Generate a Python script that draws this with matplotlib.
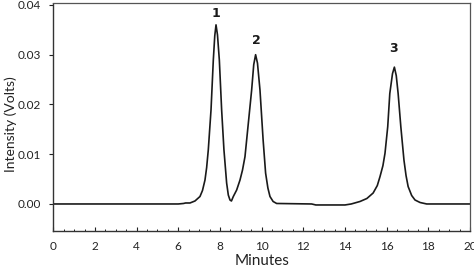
import matplotlib
matplotlib.use('Agg')
import matplotlib.pyplot as plt
from matplotlib.ticker import MultipleLocator, FormatStrFormatter

# ── Data ─────────────────────────────────────────────────────────
minutes = [0.0, 6.0, 6.25, 6.35, 6.56, 6.8, 7.04, 7.16, 7.28, 7.36, 7.44, 7.57,
           7.68, 7.75, 7.81, 7.88, 7.97, 8.08, 8.19, 8.32, 8.40, 8.48, 8.55,
           8.64, 8.8, 8.96, 9.08, 9.20, 9.36, 9.52, 9.62, 9.71, 9.8, 9.92,
           10.07, 10.19, 10.30, 10.40, 10.55, 10.72, 12.4, 12.6, 14.0, 14.3,
           14.72, 15.05, 15.35, 15.55, 15.68, 15.82, 15.92, 16.05, 16.15,
           16.28, 16.37, 16.46, 16.55, 16.68, 16.83, 16.93, 17.03, 17.2,
           17.36, 17.6, 17.92, 20.0]
volts = [0.0, 0.0, 0.0001, 0.0002, 0.0002, 0.0006, 0.0015, 0.0027, 0.0048,
         0.0073, 0.0109, 0.0189, 0.0289, 0.0338, 0.0360, 0.0340, 0.0289,
         0.0189, 0.0109, 0.0042, 0.0018, 0.0008, 0.0006, 0.0015, 0.0028,
         0.0048, 0.0068, 0.0095, 0.0162, 0.0229, 0.0280, 0.0300, 0.0283,
         0.0229, 0.0129, 0.0062, 0.0032, 0.0015, 0.0005, 0.0001, 0.0, -0.0002,
         -0.0002, 0.0, 0.0005, 0.0011, 0.0022, 0.0037, 0.0055, 0.0077, 0.0102,
         0.0155, 0.0222, 0.0262, 0.0275, 0.0258, 0.0222, 0.0155, 0.0088,
         0.0057, 0.0035, 0.0017, 0.0008, 0.0003, 0.0, 0.0]

peak_labels = ['1', '2', '3']
peak_x = [7.8, 9.76, 16.35]
peak_y = [0.0383, 0.0328, 0.0312]

FONT = 'Lato'

fig = plt.figure(figsize=(4.74, 2.69), dpi=100, facecolor='white')
ax = fig.add_axes([0.1124, 0.1413, 0.8792, 0.8477])

ax.plot(minutes, volts, color='#1a1a1a', lw=1.2)

for lab, x, y in zip(peak_labels, peak_x, peak_y):
    ax.text(x, y, lab, ha='center', va='center', fontsize=9,
            fontweight='bold', color='#1a1a1a', family='DejaVu Sans')

ax.set_xlim(0, 20)
ax.set_ylim(-0.00543, 0.0404)
ax.xaxis.set_major_locator(MultipleLocator(2))
ax.xaxis.set_minor_locator(MultipleLocator(0.5))
ax.yaxis.set_major_locator(MultipleLocator(0.01))
ax.yaxis.set_major_formatter(FormatStrFormatter('%.2f'))

ax.tick_params(axis='x', which='major', direction='in', length=3,
               width=0.8, pad=7, labelsize=8.5, colors='#222222')
ax.tick_params(axis='x', which='minor', direction='in', length=1.5, width=0.6)
ax.tick_params(axis='y', which='major', direction='out', length=3,
               width=0.8, pad=6, labelsize=8.5, colors='#222222')
for lbl in ax.get_xticklabels() + ax.get_yticklabels():
    lbl.set_family(FONT)

for side in ['top', 'right']:
    ax.spines[side].set_color('#555555')
    ax.spines[side].set_linewidth(0.9)
for side in ['left', 'bottom']:
    ax.spines[side].set_color('#333333')
    ax.spines[side].set_linewidth(1.0)
    ax.spines[side].set_linestyle((0, (2, 1)))

ax.set_xlabel('Minutes', fontsize=11, family=FONT, color='#222222', labelpad=2)
ax.set_ylabel('Intensity (Volts)', fontsize=10, family=FONT, color='#222222')
ax.yaxis.set_label_coords(-0.088, 0.47)

plt.savefig('out.png', dpi=100, facecolor='white')
